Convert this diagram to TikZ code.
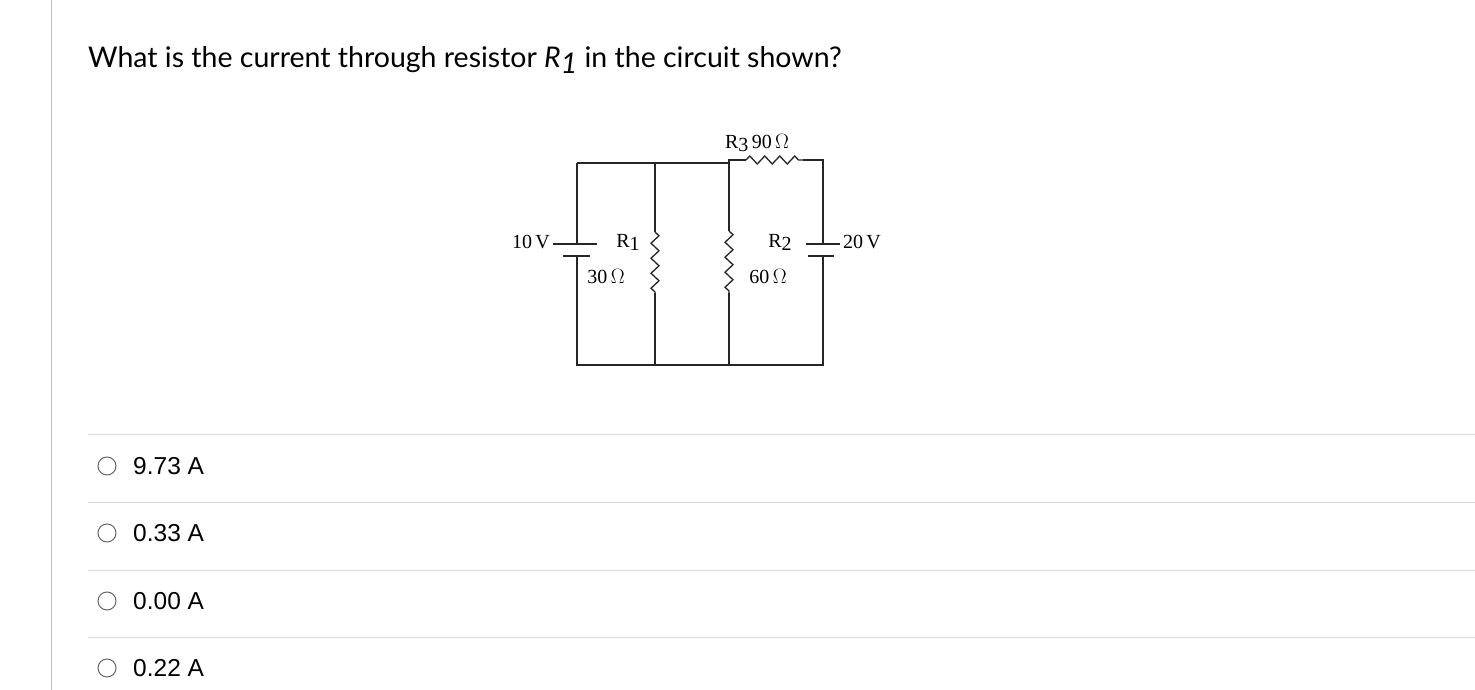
\documentclass[tikz,border=0pt]{standalone}
\usepackage{fontspec}
\setmainfont{Lato}
\newfontfamily\optfont{Liberation Sans}
\newfontfamily\cfont{Liberation Serif}
\usetikzlibrary{decorations.pathmorphing}
\begin{document}
\begin{tikzpicture}[x=1pt,y=-1pt,
  wire/.style={line width=1.3pt,black!85},
  res/.style={wire,decorate,decoration={zigzag,segment length=15pt,amplitude=4pt}},
  clab/.style={font=\cfont\fontsize{20}{20}\selectfont,inner sep=0pt},
  opt/.style={font=\optfont\fontsize{24.5}{25}\selectfont,anchor=west,inner sep=0pt},
  radio/.style={circle,draw=black!60,line width=1pt,minimum size=18pt,inner sep=0pt},
  sep/.style={draw=black!15,line width=1pt}]
\useasboundingbox (0,0) rectangle (1475,690);
\fill[white] (0,0) rectangle (1475,690);
\draw[black!25,line width=1pt] (51,0) -- (51,690);
\node[anchor=west,inner sep=0pt,font=\fontsize{28.5}{29}\selectfont] (q) at (88,60)
  {What is the current through resistor \textit{R}\raisebox{-6pt}{\textit{1}} in the circuit shown?};
% circuit coordinates
\coordinate (tl) at (577,163); \coordinate (bl) at (577,365);
\coordinate (t1) at (655,163); \coordinate (b1) at (655,365);
\coordinate (t2) at (729,163); \coordinate (b2) at (729,365);
\coordinate (tr) at (823,160); \coordinate (br) at (823,365);
\coordinate (r3a) at (746,160); \coordinate (r3b) at (803,160);
\draw[wire] (tl) -- (577,244) (577,256) -- (bl) -- (br) -- (823,256) (823,244) -- (tr) -- (r3b);
\draw[wire] (tl) -- (t2) -- (729,160) -- (r3a);
\draw[res] (r3a) -- (r3b);
\draw[wire] (t1) -- (655,232); \draw[res] (655,232) -- (655,293); \draw[wire] (655,293) -- (b1);
\draw[wire] (t2) -- (729,231); \draw[res] (729,231) -- (729,293); \draw[wire] (729,293) -- (b2);
\draw[wire] (553,244) -- (597,244); \draw[wire] (563,256) -- (590,256);
\draw[wire] (806,244) -- (840,244); \draw[wire] (808,256) -- (834,256);
\node[clab] (l10) at (531,242) {10\,V};
\node[clab] (l20) at (862,242) {20\,V};
\node[clab] (lr1) at (628,242) {R\raisebox{-3pt}{1}};
\node[clab] (lr2) at (780,242) {R\raisebox{-3pt}{2}};
\node[clab] (l30) at (606,277) {30\,$\Omega$};
\node[clab] (l60) at (768,277) {60\,$\Omega$};
\node[clab] (lr3) at (757,143) {R\raisebox{-3pt}{3}\,90\,$\Omega$};
% options
\foreach \y in {434,502,570,637} \draw[sep] (88,\y) -- (1475,\y);
\node[radio] (c1) at (107,466) {}; \node[opt] (o1) at (133,466) {9.73 A};
\node[radio] (c2) at (107,533) {}; \node[opt] (o2) at (133,533) {0.33 A};
\node[radio] (c3) at (107,601) {}; \node[opt] (o3) at (133,601) {0.00 A};
\node[radio] (c4) at (107,668) {}; \node[opt] (o4) at (133,668) {0.22 A};
\end{tikzpicture}
\end{document}
